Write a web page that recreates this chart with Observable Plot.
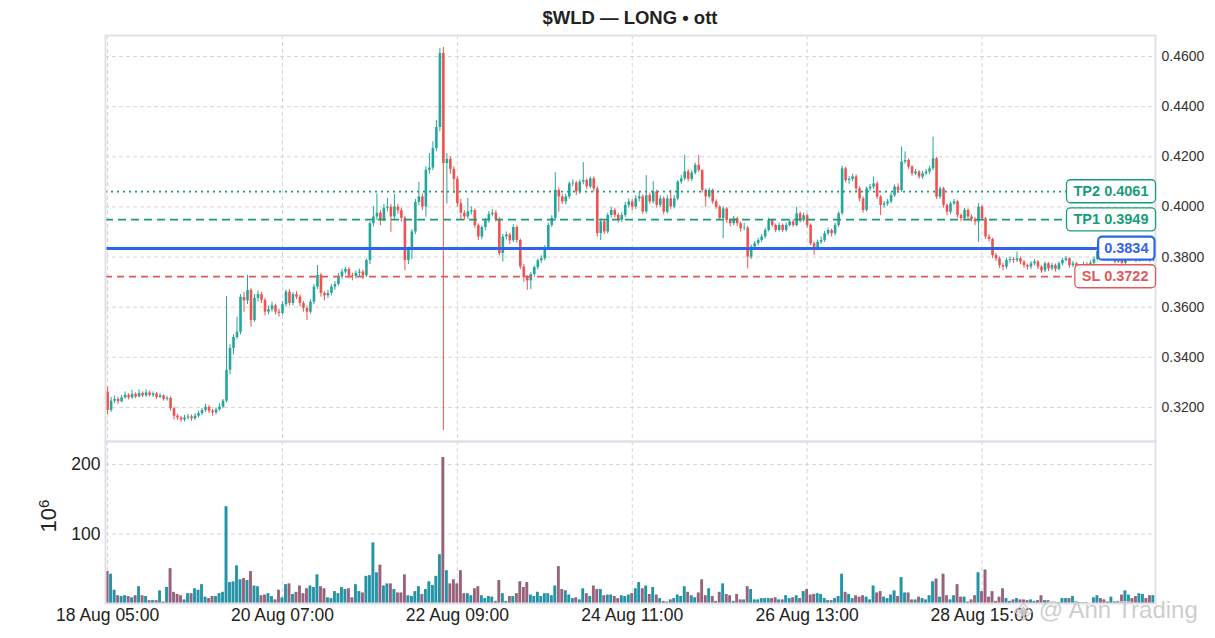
<!DOCTYPE html>
<html><head><meta charset="utf-8">
<script src="https://cdn.jsdelivr.net/npm/d3@7"></script>
<script src="https://cdn.jsdelivr.net/npm/@observablehq/plot@0.6"></script>
<style>
body{margin:0;background:#fff;font-family:"Liberation Sans",Arial,sans-serif}
#wrap{position:relative;width:1215px;height:638px;overflow:hidden;background:#fff}
#wrap svg{position:absolute;left:0}
#title{position:absolute;left:105px;width:1050px;top:5px;line-height:26px;text-align:center;font-weight:bold;font-size:18.5px;color:#222}
#wm{position:absolute;left:1014px;top:596px;font-size:24px;color:#c9c9c9;white-space:nowrap;opacity:0.9}
</style></head><body><div id="wrap"><div id="title"></div><div id="wm"></div></div>
<script>
const chartTitle = "$WLD — LONG • ott";
const watermark = "◈ @ Ann Trading";
const startTime = "2025-08-18T05:00:00Z";
const firstOpen = 3261; // price ×10000
const closes = [
3188,3225,3232,3222,3238,3248,3238,3252,3242,3256,
3246,3258,3248,3254,3240,3246,3232,3236,3195,3165,
3158,3150,3158,3162,3155,3165,3175,3188,3200,3185,
3178,3190,3201,3225,3348,3435,3479,3500,3639,3625,
3667,3547,3635,3650,3627,3580,3590,3605,3580,3575,
3610,3660,3615,3650,3640,3615,3595,3580,3620,3680,
3727,3655,3645,3655,3680,3690,3720,3740,3750,3725,
3722,3735,3740,3725,3786,3933,3960,3975,3950,3995,
3999,3960,3999,3985,3955,3786,3826,3900,4018,4040,
4000,4146,4155,4233,4317,4612,4173,4190,4150,4110,
4013,3975,3960,3980,3985,3925,3880,3918,3945,3970,
3975,3950,3814,3880,3888,3865,3918,3866,3760,3718,
3705,3730,3758,3785,3793,3838,3926,3954,4066,4040,
4020,4040,4092,4095,4060,4099,4105,4080,4112,4072,
3894,3940,3900,3966,3986,3966,3946,3966,4006,4020,
3999,4032,4040,3980,4045,4020,4060,4006,4032,3979,
4032,4000,4032,4099,4112,4140,4110,4135,4166,4145,
4066,4040,4066,4020,3999,3954,3992,3946,3933,3953,
3933,3913,3915,3800,3840,3853,3866,3880,3906,3946,
3926,3906,3926,3906,3926,3940,3926,3972,3945,3965,
3926,3853,3833,3859,3866,3893,3906,3893,3926,3973,
4152,4105,4110,4120,4072,4032,3986,4072,4079,4092,
4039,4006,4012,4020,4045,4079,4065,4179,4185,4159,
4132,4139,4119,4132,4139,4152,4192,4039,4072,4006,
3979,4012,4020,3966,3953,3986,3960,3950,3940,3999,
3953,3880,3870,3806,3793,3766,3760,3786,3790,3786,
3793,3780,3766,3760,3773,3780,3760,3745,3773,3753,
3766,3750,3773,3786,3793,3766,3773,3753,3760,3770,
3766,3775,3790,3822,3815,3800,3790,3795,3780,3786,
3775,3790,3800,3795,3785,3790,3800,3795,3785,3790];
const highs = [
3281,3240,3245,3240,3248,3262,3255,3268,3258,3270,
3262,3270,3265,3262,3260,3255,3250,3245,3242,3200,
3172,3165,3168,3172,3170,3175,3185,3195,3212,3208,
3192,3198,3215,3232,3643,3450,3490,3560,3650,3660,
3727,3675,3650,3665,3660,3635,3605,3620,3612,3592,
3622,3668,3670,3658,3662,3648,3622,3605,3630,3690,
3766,3735,3662,3668,3690,3702,3735,3752,3760,3758,
3735,3745,3752,3748,3792,3940,4000,4052,3985,4010,
4035,4010,4050,4010,3995,3962,3840,3910,4030,4098,
4052,4160,4213,4260,4345,4632,4636,4212,4200,4160,
4120,4030,3985,4034,4000,3992,3932,3925,3955,3982,
3990,3985,3958,3890,3900,3895,3930,3925,3872,3770,
3725,3738,3765,3792,3805,3845,3935,3965,4137,4075,
4050,4050,4100,4108,4102,4108,4177,4112,4120,4120,
4080,3952,3948,3975,3998,3995,3975,3978,4018,4032,
4028,4045,4058,4048,4125,4055,4100,4068,4045,4040,
4045,4066,4045,4105,4125,4206,4148,4145,4175,4206,
4150,4072,4075,4072,4028,4005,4000,3998,3952,3962,
3960,3940,3935,3922,3848,3862,3875,3890,3915,3955,
3952,3932,3935,3932,3935,3950,3948,3999,3980,3975,
3972,3932,3860,3868,3880,3902,3915,3912,3935,3980,
4162,4158,4120,4130,4128,4080,4040,4080,4090,4119,
4100,4045,4022,4030,4055,4088,4092,4239,4220,4192,
4165,4150,4145,4142,4150,4162,4278,4198,4080,4078,
4012,4020,4030,4025,3972,3995,3992,3968,3958,4013,
4005,3958,3890,3875,3815,3800,3775,3795,3800,3798,
3820,3800,3786,3772,3782,3790,3786,3766,3780,3778,
3775,3772,3780,3795,3802,3798,3782,3778,3770,3780,
3778,3785,3800,3830,3828,3820,3805,3805,3800,3795,
3792,3798,3810,3808,3800,3798,3810,3808,3800,3798];
const lows = [
3172,3180,3215,3212,3218,3232,3230,3233,3235,3238,
3240,3240,3242,3240,3232,3235,3225,3225,3185,3150,
3148,3140,3142,3150,3145,3148,3158,3168,3180,3175,
3165,3170,3185,3195,3218,3330,3410,3470,3490,3580,
3610,3520,3540,3620,3615,3565,3570,3580,3570,3560,
3568,3600,3605,3605,3630,3600,3580,3547,3572,3610,
3670,3640,3625,3635,3645,3668,3685,3712,3732,3712,
3705,3712,3722,3710,3718,3770,3920,3945,3925,3940,
3980,3899,3950,3970,3940,3746,3770,3790,3890,4005,
3985,3959,4130,4145,4220,4300,3108,4012,4130,4054,
4000,3946,3945,3950,3968,3915,3866,3870,3905,3935,
3960,3940,3805,3780,3868,3850,3858,3855,3750,3700,
3667,3670,3720,3748,3775,3785,3830,3918,3945,3979,
4010,4008,4030,4080,4045,4050,4088,4070,4072,4060,
3880,3866,3890,3892,3955,3955,3935,3938,3958,3995,
3985,3990,4020,3970,3972,4010,4012,3995,3998,3968,
3972,3990,3992,4025,4090,4105,4100,4102,4128,4138,
4055,3999,4032,4010,3990,3945,3873,3935,3920,3925,
3922,3900,3905,3753,3790,3830,3845,3858,3872,3900,
3918,3898,3900,3898,3900,3920,3918,3920,3935,3938,
3915,3845,3806,3825,3850,3858,3885,3880,3885,3918,
3965,4095,4090,4100,4062,4020,3975,3980,4062,4070,
4030,3966,3995,4002,4012,4038,4055,4058,4170,4150,
4122,4125,4110,4110,4125,4130,4145,4030,4030,3995,
3965,3970,4005,3955,3940,3945,3950,3940,3925,3859,
3945,3870,3860,3795,3782,3755,3745,3750,3775,3775,
3778,3770,3755,3748,3750,3765,3750,3735,3738,3742,
3745,3740,3745,3765,3780,3755,3758,3742,3745,3752,
3755,3760,3768,3785,3805,3790,3782,3785,3772,3775,
3768,3770,3785,3788,3778,3780,3785,3788,3778,3780];
const volumes = [
46,42,19,11,10,11,10,8,11,24,
11,10,4,4,4,18,2,23,50,16,
13,11,5,14,14,21,19,27,9,7,
10,10,14,16,139,30,31,54,34,36,
33,46,25,24,11,12,14,10,5,19,
8,27,28,13,16,25,14,21,25,23,
41,24,21,8,7,17,14,23,20,21,
8,27,17,15,39,40,87,44,55,25,
28,28,20,15,15,41,11,10,17,24,
13,20,31,26,39,70,210,47,28,34,
28,47,14,14,11,21,24,11,7,10,
9,3,33,14,3,10,10,14,31,23,
30,12,10,16,10,14,14,11,25,53,
20,18,12,7,8,5,21,14,10,25,
20,20,11,12,12,10,7,11,10,12,
14,21,30,21,25,13,23,12,7,3,
2,5,7,12,10,24,16,11,8,15,
34,11,21,10,3,16,28,13,11,3,
13,5,5,24,20,5,5,7,7,7,
7,8,5,5,11,7,8,11,7,17,
20,12,13,14,13,7,4,4,7,10,
42,16,13,7,11,9,11,9,5,25,
15,17,9,7,12,18,10,37,15,15,
5,5,9,7,5,11,31,35,9,42,
11,5,11,27,9,9,2,5,11,44,
17,48,9,17,3,9,21,7,3,5,
7,5,5,4,5,3,4,11,4,4,
0,0,1,7,7,7,10,3,1,1,
1,0,8,11,7,5,2,9,2,3,
12,18,12,7,10,14,13,7,11,11];
const xTickTimes = ["2025-08-18T05:00:00Z","2025-08-20T07:00:00Z","2025-08-22T09:00:00Z","2025-08-24T11:00:00Z","2025-08-26T13:00:00Z","2025-08-28T15:00:00Z"];
const priceTicks = [0.32,0.34,0.36,0.38,0.40,0.42,0.44,0.46];
const volumeTicks = [100,200];
const levelNames = ["TP2","TP1","","SL"];
const levelValues = [0.4061,0.3949,0.3834,0.3722];

// ---- build ----
const UP = "#26a69a", DOWN = "#ef5350";
const HOUR = 3600e3;
const t0 = new Date(startTime);
const candles = closes.map((c, i) => {
  const open = (i === 0 ? firstOpen : closes[i - 1]) / 1e4;
  const close = c / 1e4;
  const t = new Date(+t0 + i * HOUR);
  return {t, t1: new Date(+t - 0.38 * HOUR), t2: new Date(+t + 0.38 * HOUR),
    open, close, high: highs[i] / 1e4, low: lows[i] / 1e4, vol: volumes[i], up: close >= open};
});
const xTicks = xTickTimes.map(s => new Date(s));
const xDomain = [new Date(+t0 - 0.6 * HOUR), new Date(+t0 + (closes.length - 1 + 0.6) * HOUR)];
const levelStyles = [
  {stroke: "#179c7c", dash: "2,4", width: 1.6, box: 1.3, pad: 7},
  {stroke: "#179c7c", dash: "8,5", width: 1.8, box: 1.3, pad: 7},
  {stroke: "#2f66e8", dash: null, width: 3, box: 2.2, pad: 6},
  {stroke: "#e05a5a", dash: "7,5", width: 1.6, box: 1.3, pad: 7}
];
const levels = levelValues.map((v, i) => ({value: v, name: levelNames[i],
  label: (levelNames[i] ? levelNames[i] + " " : "") + d3.format(".4f")(v), ...levelStyles[i]}));
const gridStyle = {stroke: "#d6d6d6", strokeOpacity: 1, strokeDasharray: "4,3", strokeWidth: 1};
const font = "Liberation Sans, Arial, sans-serif";

const price = Plot.plot({
  width: 1215, height: 441, marginTop: 35, marginBottom: 0, marginLeft: 105, marginRight: 60,
  style: {fontFamily: font, fontSize: "14px", color: "#333", background: "transparent", overflow: "visible"},
  x: {type: "utc", domain: xDomain, axis: null},
  y: {domain: [0.3064, 0.4684], axis: null},
  marks: [
    Plot.gridY(priceTicks, gridStyle),
    Plot.gridX(xTicks, gridStyle),
    Plot.ruleX(candles, {x: "t", y1: "low", y2: "high", stroke: d => d.up ? UP : DOWN, strokeWidth: 1}),
    Plot.ruleX(candles, {x: "t", y1: "open", y2: d => Math.abs(d.close - d.open) < 0.00008 ? d.open + (d.up ? 0.00008 : -0.00008) : d.close,
      stroke: d => d.up ? UP : DOWN, strokeWidth: 2.6}),
    ...levels.map(l => Plot.ruleY([l.value], {stroke: l.stroke, strokeWidth: l.width, strokeDasharray: l.dash || undefined})),
    Plot.frame({stroke: "#e0e0ea", strokeWidth: 2}),
    Plot.axisY({anchor: "right", ticks: priceTicks, tickFormat: d3.format(".4f"), tickSize: 0, tickPadding: 6, fontSize: 14, label: null, fill: "#333"}),
    Plot.text(levels, {x: () => xDomain[1], y: "value", text: "label", textAnchor: "end", dx: -7, fill: "stroke",
      fontWeight: "bold", fontSize: 14.5})
  ]
});

const volume = Plot.plot({
  width: 1215, height: 197, marginTop: 0, marginBottom: 35, marginLeft: 105, marginRight: 60,
  style: {fontFamily: font, fontSize: "17.5px", color: "#222", background: "transparent", overflow: "visible"},
  x: {type: "utc", domain: xDomain},
  y: {domain: [0, 233]},
  marks: [
    Plot.gridY(volumeTicks, gridStyle),
    Plot.gridX(xTicks, gridStyle),
    Plot.rect(candles, {x1: "t1", x2: "t2", y1: 0, y2: "vol", fill: "#1f77b4"}),
    Plot.rect(candles, {x1: "t1", x2: "t2", y1: 0, y2: "vol", fill: d => d.up ? UP : DOWN, fillOpacity: 0.62}),
    Plot.frame({stroke: "#e0e0ea", strokeWidth: 2}),
    Plot.axisX({ticks: xTicks, tickFormat: d3.utcFormat("%d %b %H:%M"), tickSize: 0, tickPadding: 5, fontSize: 17.5, label: null, fill: "#222"}),
    Plot.axisY({ticks: volumeTicks, tickSize: 0, tickPadding: 5, fontSize: 17.5, label: null, fill: "#222"})
  ]
});

const wrap = document.getElementById("wrap");
document.getElementById("title").textContent = chartTitle;
document.getElementById("wm").textContent = watermark;
price.style.top = "0px";
volume.style.top = "441px";
wrap.insertBefore(volume, wrap.firstChild);
wrap.insertBefore(price, wrap.firstChild);

// label boxes behind level texts (drawn in the text's own coordinate system)
const labelTexts = levels.map(l => l.label);
d3.select(price).selectAll("text").each(function() {
  const i = labelTexts.indexOf(this.textContent);
  if (i < 0) return;
  const lv = levels[i];
  const b = this.getBBox();
  d3.select(this.parentNode).insert("rect", () => this)
    .attr("transform", this.getAttribute("transform"))
    .attr("x", b.x - lv.pad).attr("y", b.y - 3.5)
    .attr("width", b.width + 2 * lv.pad).attr("height", b.height + 7)
    .attr("rx", 4).attr("fill", "white").attr("fill-opacity", 0.96)
    .attr("stroke", lv.stroke).attr("stroke-width", lv.box);
});

// 10^6 axis label
const lab = d3.select(volume).append("text")
  .attr("transform", "translate(56,75) rotate(-90)")
  .attr("text-anchor", "middle").attr("font-size", 22).attr("font-family", font).attr("fill", "#222");
lab.append("tspan").text("10");
lab.append("tspan").attr("dy", "-0.45em").attr("font-size", 15).text("6");
</script></body></html>
